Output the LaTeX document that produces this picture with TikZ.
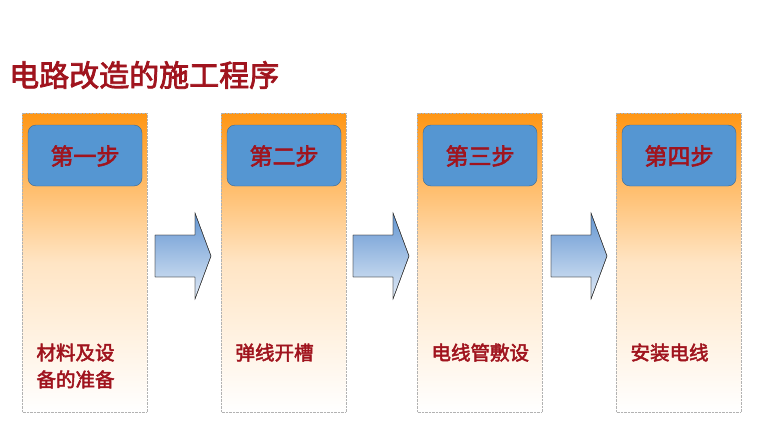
\documentclass[tikz,border=0pt]{standalone}
\usepackage{fontspec}
\newfontfamily\cjk{Noto Sans CJK SC}[FakeBold=2.5]
\definecolor{dred}{RGB}{160,20,30}
\definecolor{org}{RGB}{255,150,20}
\definecolor{bbox}{RGB}{85,150,210}
\definecolor{abl}{RGB}{100,150,210}
\begin{document}
\begin{tikzpicture}[x=1pt,y=-1pt,
 col/.style={draw=gray!60,densely dotted,top color=org,bottom color=white,middle color=org!25},
 stepbox/.style={draw=bbox!70!black,fill=bbox,rounded corners=8pt},
 steptxt/.style={font=\cjk\fontsize{23}{25}\selectfont,text=dred},
 lbl/.style={font=\cjk\fontsize{19.5}{27}\selectfont,text=dred,align=left,anchor=north west},
 arr/.style={draw=black!80,top color=abl,bottom color=abl!20}]
\useasboundingbox (0,0) rectangle (760,431);
\node[font=\cjk\fontsize{30}{32}\selectfont,text=dred,anchor=west,inner sep=0pt] (title) at (9,75) {电路改造的施工程序};
\foreach \x/\s/\l [count=\i] in {22/第一步/材料及设\\备的准备,221/第二步/弹线开槽,417/第三步/电线管敷设,616/第四步/安装电线}{
 \shade[col] (\x,113) rectangle ++(125,299);
 \draw[stepbox] (\x+6,125) rectangle ++(114,61);
 \node[steptxt] (s\i) at (\x+63,156) {\s};
 \node[lbl] (l\i) at (\x+11,340) {\l};
}
\foreach \x [count=\i] in {155,353,551}{
 \shade[arr] (\x,235) -- (\x+40,235) -- (\x+40,213) -- (\x+56,256) -- (\x+40,299) -- (\x+40,277) -- (\x,277) -- cycle;
 \draw[black!80] (\x,235) -- (\x+40,235) -- (\x+40,213) -- (\x+56,256) -- (\x+40,299) -- (\x+40,277) -- (\x,277) -- cycle;
}
\end{tikzpicture}
\end{document}
